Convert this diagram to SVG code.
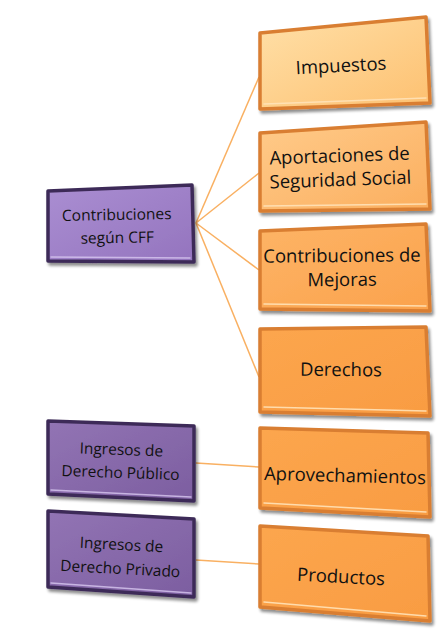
<svg xmlns="http://www.w3.org/2000/svg" width="448" height="640" viewBox="0 0 448 640">
<defs>
<linearGradient id="gImp" x1="0" y1="0" x2="1" y2="1"><stop offset="0" stop-color="#FFE0A8"/><stop offset="1" stop-color="#FDC070"/></linearGradient>
<linearGradient id="gApo" x1="0" y1="0" x2="1" y2="1"><stop offset="0" stop-color="#FFCB8A"/><stop offset="1" stop-color="#FBAE5E"/></linearGradient>
<linearGradient id="gMej" x1="0" y1="0" x2="1" y2="1"><stop offset="0" stop-color="#FDB466"/><stop offset="1" stop-color="#FBA24C"/></linearGradient>
<linearGradient id="gOr" x1="0" y1="0" x2="1" y2="1"><stop offset="0" stop-color="#FCA64E"/><stop offset="1" stop-color="#F99C42"/></linearGradient>
<linearGradient id="gCff" x1="0" y1="0" x2="1" y2="1"><stop offset="0" stop-color="#AA8ED2"/><stop offset="1" stop-color="#9474BE"/></linearGradient>
<linearGradient id="gPur" x1="0" y1="0" x2="1" y2="1"><stop offset="0" stop-color="#9274B4"/><stop offset="1" stop-color="#7C5EA0"/></linearGradient>
<filter id="sh" x="-10%" y="-10%" width="130%" height="130%"><feGaussianBlur in="SourceAlpha" stdDeviation="1.5"/><feOffset dx="2" dy="3"/><feComponentTransfer><feFuncA type="linear" slope="0.45"/></feComponentTransfer><feMerge><feMergeNode/><feMergeNode in="SourceGraphic"/></feMerge></filter>
</defs>
<style>
.or{stroke:#D97E30;stroke-width:3.5;stroke-linejoin:round;filter:url(#sh)}
.pu{stroke:#3E2C58;stroke-width:3.5;stroke-linejoin:round;filter:url(#sh)}
.hlo{fill:none;stroke:#FFE2B8;stroke-width:1.5;stroke-linecap:round;opacity:0.9}
.hlp{fill:none;stroke:#D8C8F0;stroke-width:1.5;stroke-linecap:round;opacity:0.8}
.t{font-family:"Open Sans","Noto Sans",sans-serif;fill:#111;text-anchor:middle}
.to{font-size:18.5px}
.tp{font-size:15.5px}
.c{fill:none;stroke:#F9B062;stroke-width:1.5}
</style>
<g id="connectors">
<line class="c" x1="196" y1="223" x2="259" y2="77"/>
<line class="c" x1="196" y1="223" x2="259" y2="173"/>
<line class="c" x1="196" y1="223" x2="259" y2="270"/>
<line class="c" x1="196" y1="223" x2="259" y2="377"/>
<line class="c" x1="196" y1="463" x2="259" y2="467"/>
<line class="c" x1="196" y1="560" x2="259" y2="564"/>
</g>
<g id="n-cff">
<polygon class="pu" fill="url(#gCff)" points="48,191 192,185 194,262 48,261"/>
<polyline class="hlp" points="51,257 190,258"/>
<text class="t tp" transform="rotate(-1 117 226)"><tspan x="117" y="220">Contribuciones</tspan><tspan x="117" y="243">según CFF</tspan></text>
</g>
<g id="n-publico">
<polygon class="pu" fill="url(#gPur)" points="48,421 194,426 194,501 48,494"/>
<polyline class="hlp" points="51,490 191,497"/>
<text class="t tp" transform="rotate(2 121 460)"><tspan x="121" y="455">Ingresos de</tspan><tspan x="121" y="478">Derecho Público</tspan></text>
</g>
<g id="n-privado">
<polygon class="pu" fill="url(#gPur)" points="48,511 194,519 194,597 48,587"/>
<polyline class="hlp" points="51,583 191,593"/>
<text class="t tp" transform="rotate(3 121 555)"><tspan x="121" y="550">Ingresos de</tspan><tspan x="121" y="574">Derecho Privado</tspan></text>
</g>
<g id="n-impuestos">
<polygon class="or" fill="url(#gImp)" points="260,33 426,17 430,103 260,109"/>
<polyline class="hlo" points="264,104 426,98"/>
<text class="t to" x="341" y="72" transform="rotate(-3 341 66)">Impuestos</text>
</g>
<g id="n-aportaciones">
<polygon class="or" fill="url(#gApo)" points="260,133 426,122 430,209 260,211"/>
<polyline class="hlo" points="264,206 426,204"/>
<text class="t to" transform="rotate(-2 340 168)"><tspan x="340" y="162">Aportaciones de</tspan><tspan x="340" y="186">Seguridad Social</tspan></text>
</g>
<g id="n-mejoras">
<polygon class="or" fill="url(#gMej)" points="260,231 426,224 430,311 260,309"/>
<polyline class="hlo" points="264,304 426,306"/>
<text class="t to" transform="rotate(-0.5 342 268)"><tspan x="342" y="262">Contribuciones de</tspan><tspan x="342" y="286">Mejoras</tspan></text>
</g>
<g id="n-derechos">
<polygon class="or" fill="url(#gOr)" points="260,329 426,327 430,416 260,412"/>
<polyline class="hlo" points="264,407 426,411"/>
<text class="t to" x="341" y="376" transform="rotate(0.5 341 370)">Derechos</text>
</g>
<g id="n-aprovechamientos">
<polygon class="or" fill="url(#gOr)" points="260,428 428,433 430,517 260,508"/>
<polyline class="hlo" points="264,503 426,512"/>
<text class="t to" x="345" y="482" transform="rotate(1.5 345 476)">Aprovechamientos</text>
</g>
<g id="n-productos">
<polygon class="or" fill="url(#gOr)" points="260,526 428,536 430,621 260,607"/>
<polyline class="hlo" points="264,602 426,616"/>
<text class="t to" x="341" y="583" transform="rotate(3 341 577)">Productos</text>
</g>
</svg>
